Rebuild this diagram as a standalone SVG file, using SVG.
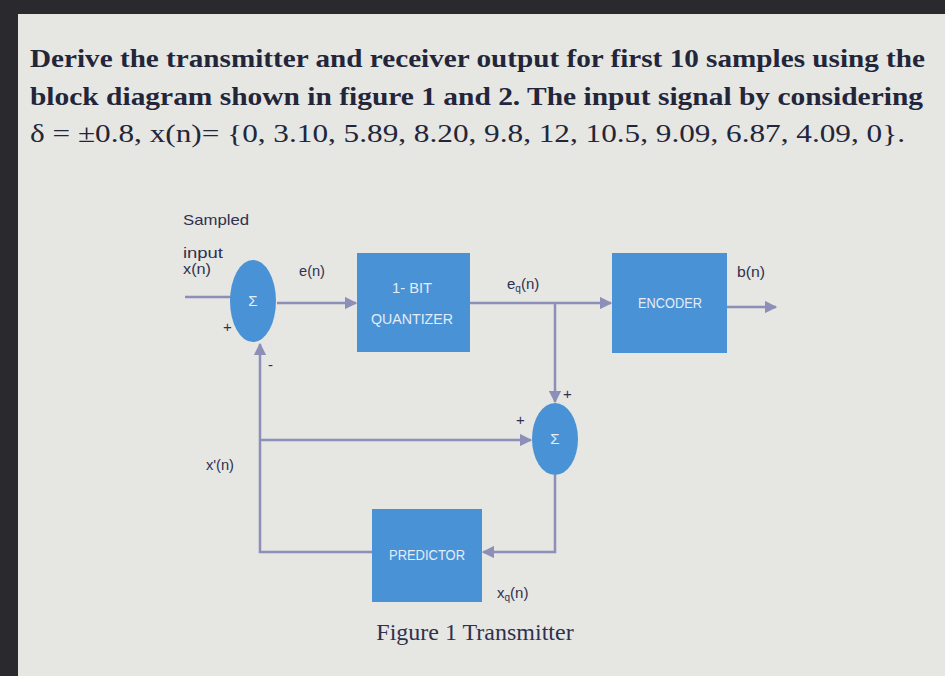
<svg xmlns="http://www.w3.org/2000/svg" width="945" height="676" viewBox="0 0 945 676">
<style>
.blk{fill:#4a92d6}
.ln{stroke:#8c90b8;stroke-width:2.5;fill:none}
.lb{font-family:"Liberation Sans",sans-serif;fill:#2e3150;font-size:15px}
.wt{font-family:"Liberation Sans",sans-serif;fill:#e4ecf6;font-size:15px;text-anchor:middle}
.t{font-family:"Liberation Serif",serif;fill:#23263a;font-size:26px}
</style>
<defs><marker id="a" viewBox="0 0 10 10" refX="9" refY="5" markerWidth="5" markerHeight="5" orient="auto"><path d="M0,0L10,5L0,10z" fill="#8c90b8"/></marker></defs>
<rect width="945" height="676" fill="#2a2a2e"/>
<rect x="18" y="14" width="927" height="662" fill="#e6e6e2"/>
<text class="t" font-weight="bold" x="30" y="67" textLength="895" lengthAdjust="spacingAndGlyphs">Derive the transmitter and receiver output for first 10 samples using the</text>
<text class="t" font-weight="bold" x="30" y="105" textLength="893" lengthAdjust="spacingAndGlyphs">block diagram shown in figure 1 and 2. The input signal by considering</text>
<text class="t" x="30" y="142" textLength="875" lengthAdjust="spacingAndGlyphs">δ = ±0.8, x(n)= {0, 3.10, 5.89, 8.20, 9.8, 12, 10.5, 9.09, 6.87, 4.09, 0}.</text>
<g id="connectors">
<line class="ln" x1="185" y1="297" x2="231" y2="297"/>
<line class="ln" x1="277" y1="303" x2="356" y2="303" marker-end="url(#a)"/>
<line class="ln" x1="470" y1="303" x2="611" y2="303" marker-end="url(#a)"/>
<line class="ln" x1="727" y1="307" x2="776" y2="307" marker-end="url(#a)"/>
<line class="ln" x1="555" y1="303" x2="555" y2="402" marker-end="url(#a)"/>
<line class="ln" x1="259" y1="440" x2="531" y2="440" marker-end="url(#a)"/>
<polyline class="ln" points="555,475 555,552 483,552" marker-end="url(#a)"/>
<polyline class="ln" points="372,552 260,552 260,344" marker-end="url(#a)"/>
</g>
<g id="sum1"><ellipse class="blk" cx="253" cy="301" rx="23" ry="41"/><text class="wt" x="253" y="306">Σ</text></g>
<g id="quantizer"><rect class="blk" x="357" y="253" width="113" height="99"/><text class="wt" x="412" y="293" textLength="40" lengthAdjust="spacingAndGlyphs">1- BIT</text><text class="wt" x="412" y="324" textLength="82" lengthAdjust="spacingAndGlyphs">QUANTIZER</text></g>
<g id="encoder"><rect class="blk" x="612" y="253" width="115" height="100"/><text class="wt" x="670" y="308" textLength="64" lengthAdjust="spacingAndGlyphs">ENCODER</text></g>
<g id="sum2"><ellipse class="blk" cx="555" cy="439" rx="23" ry="36"/><text class="wt" x="555" y="444">Σ</text></g>
<g id="predictor"><rect class="blk" x="372" y="509" width="110" height="93"/><text class="wt" x="427" y="560" textLength="76" lengthAdjust="spacingAndGlyphs">PREDICTOR</text></g>
<g id="labels">
<text class="lb" x="183" y="225" textLength="66" lengthAdjust="spacingAndGlyphs">Sampled</text>
<text class="lb" x="183" y="258" textLength="40" lengthAdjust="spacingAndGlyphs">input</text>
<text class="lb" x="183" y="274" textLength="28" lengthAdjust="spacingAndGlyphs">x(n)</text>
<text class="lb" x="223" y="332">+</text>
<text class="lb" x="268" y="370">-</text>
<text class="lb" x="299" y="276" textLength="26" lengthAdjust="spacingAndGlyphs">e(n)</text>
<text class="lb" x="507" y="289">e<tspan font-size="10" dy="3">q</tspan><tspan dy="-3">(n)</tspan></text>
<text class="lb" x="737" y="277" textLength="28" lengthAdjust="spacingAndGlyphs">b(n)</text>
<text class="lb" x="563" y="399">+</text>
<text class="lb" x="516" y="425">+</text>
<text class="lb" x="206" y="470" textLength="28" lengthAdjust="spacingAndGlyphs">x'(n)</text>
<text class="lb" x="497" y="598">x<tspan font-size="10" dy="3">q</tspan><tspan dy="-3">(n)</tspan></text>
<text x="475" y="640" text-anchor="middle" style="font-family:'Liberation Serif',serif;font-size:24px;fill:#2e3150">Figure 1 Transmitter</text>
</g>
</svg>
